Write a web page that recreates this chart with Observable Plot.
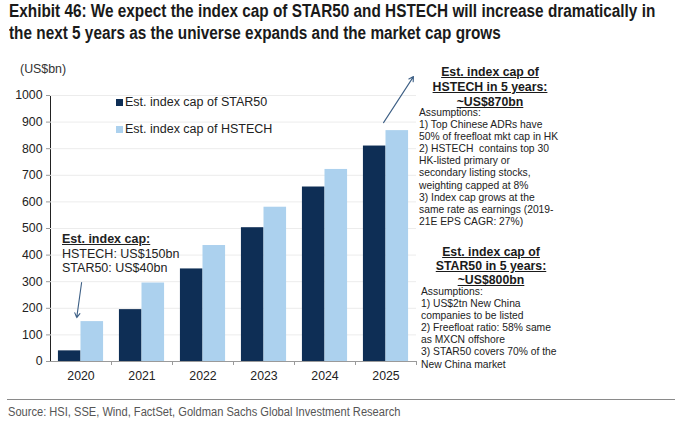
<!DOCTYPE html>
<html><head><meta charset="utf-8">
<script src="https://cdn.jsdelivr.net/npm/d3@7"></script>
<script src="https://cdn.jsdelivr.net/npm/@observablehq/plot@0.6"></script>
<style>
body{margin:0;background:#fff;}
#wrap{position:relative;width:682px;height:422px;overflow:hidden;font-family:"Liberation Sans",Arial,sans-serif;color:#1a1a1a;}
.abs{position:absolute;white-space:nowrap;}
#title{left:9px;top:0;font-family:"Liberation Sans",Arial,sans-serif;font-weight:bold;font-size:18px;line-height:22px;color:#1a1a1a;transform:scaleX(0.852);transform-origin:0 0;}
#unit{left:20px;top:61px;font-size:12.4px;line-height:16px;color:#333;}
#chart{position:absolute;left:0;top:55px;}
#chart svg [aria-label*="axis"] line,#chart svg [aria-label*="axis"] path{stroke:#9a9a9a;}
.leg{font-size:12.5px;line-height:16px;color:#222;}
.sw{display:inline-block;width:7px;height:7px;margin-right:2px;vertical-align:0px;}
#ann1{left:62px;top:232px;font-size:12.5px;line-height:14.5px;color:#222;}
.hd{font-weight:bold;text-decoration:underline;}
.rh{font-weight:bold;font-size:12.3px;text-align:center;text-decoration:underline;color:#1a1a1a;}
.rb{font-size:10.3px;line-height:12.1px;color:#222;}
#rule{left:7px;top:399px;width:668px;height:0;border-top:1px solid #8a8a8a;}
#src{left:8px;top:404px;font-family:"Liberation Sans",Arial,sans-serif;font-size:12px;line-height:16px;color:#555;transform:scaleX(0.925);transform-origin:0 0;}
</style></head>
<body><div id="wrap">
<div id="title" class="abs">Exhibit 46: We expect the index cap of STAR50 and HSTECH will increase dramatically in<br>the next 5 years as the universe expands and the market cap grows</div>
<div id="unit" class="abs">(US$bn)</div>
<div id="chart"></div>
<div class="abs leg" style="left:116px;top:94px;"><span class="sw" style="background:#0e2e55"></span>Est. index cap of STAR50</div>
<div class="abs leg" style="left:116px;top:121px;"><span class="sw" style="background:#acd1ee"></span>Est. index cap of HSTECH</div>
<div id="ann1" class="abs"><span class="hd">Est. index cap:</span><br>HSTECH: US$150bn<br>STAR50: US$40bn</div>
<div class="abs rh" style="left:420px;top:65px;width:140px;line-height:15px;">Est. index cap of<br>HSTECH in 5 years:<br>~US$870bn</div>
<div class="abs rb" style="left:419px;top:107px;">Assumptions:<br>1) Top Chinese ADRs have<br>50% of freefloat mkt cap in HK<br>2) HSTECH&nbsp; contains top 30<br>HK-listed primary or<br>secondary listing stocks,<br>weighting capped at 8%<br>3) Index cap grows at the<br>same rate as earnings (2019-<br>21E EPS CAGR: 27%)</div>
<div class="abs rh" style="left:421px;top:245px;width:140px;line-height:14px;">Est. index cap of<br>STAR50 in 5 years:<br>~US$800bn</div>
<div class="abs rb" style="left:421px;top:286px;">Assumptions:<br>1) US$2tn New China<br>companies to be listed<br>2) Freefloat ratio: 58% same<br>as MXCN offshore<br>3) STAR50 covers 70% of the<br>New China market</div>
<div id="rule" class="abs"></div>
<div id="src" class="abs">Source: HSI, SSE, Wind, FactSet, Goldman Sachs Global Investment Research</div>
</div>
<script>
const years = [2020, 2021, 2022, 2023, 2024, 2025];
const seriesNames = ["Est. index cap of STAR50", "Est. index cap of HSTECH"];
const star50 = [40, 195, 348, 503, 656, 810];
const hstech = [150, 295, 436, 580, 722, 868];
const yTicks = [0, 100, 200, 300, 400, 500, 600, 700, 800, 900, 1000];
const colors = ["#0e2e55", "#acd1ee"];
// annotation arrows (data units)
const arrows = [
  {x1: 2020.01, y1: 297, x2: 2019.93, y2: 165},
  {x1: 2024.96, y1: 898, x2: 2025.45, y2: 1071}
];

const half = 0.37; // half of a year-group width, layout constant
const rows = [];
years.forEach((yr, i) => {
  rows.push({year: yr, series: seriesNames[0], value: star50[i], a: yr - half, b: yr});
  rows.push({year: yr, series: seriesNames[1], value: hstech[i], a: yr, b: yr + half});
});

const chart = Plot.plot({
  width: 682,
  height: 335,
  marginLeft: 50,
  marginRight: 266,
  marginTop: 40,
  marginBottom: 29,
  style: {fontFamily: "'Liberation Sans', Arial, sans-serif", fontSize: "12.3px", color: "#222", background: "transparent", overflow: "visible"},
  x: {domain: [2019.5, 2025.5], ticks: years, tickFormat: d => String(d), tickSize: 0, tickPadding: 10, label: null},
  y: {domain: [0, 1000], ticks: yTicks, tickFormat: d => String(d), tickSize: 4, tickPadding: 4, label: null, line: true},
  color: {domain: seriesNames, range: colors},
  marks: [
    Plot.ruleY(yTicks.slice(1), {stroke: "#ececec", strokeWidth: 1}),
    Plot.rectY(rows, {x1: "a", x2: "b", y: "value", fill: "series"}),
    Plot.ruleY([0], {stroke: "#9a9a9a"}),
    Plot.ruleX(years, {x: d => d + 0.5, y1: 0, y2: -15, stroke: "#9a9a9a"}),
    Plot.arrow(arrows, {x1: "x1", y1: "y1", x2: "x2", y2: "y2", stroke: "#3d5f85", strokeWidth: 1.1, headLength: 7})
  ]
});
document.getElementById("chart").appendChild(chart);
</script>
</body></html>
